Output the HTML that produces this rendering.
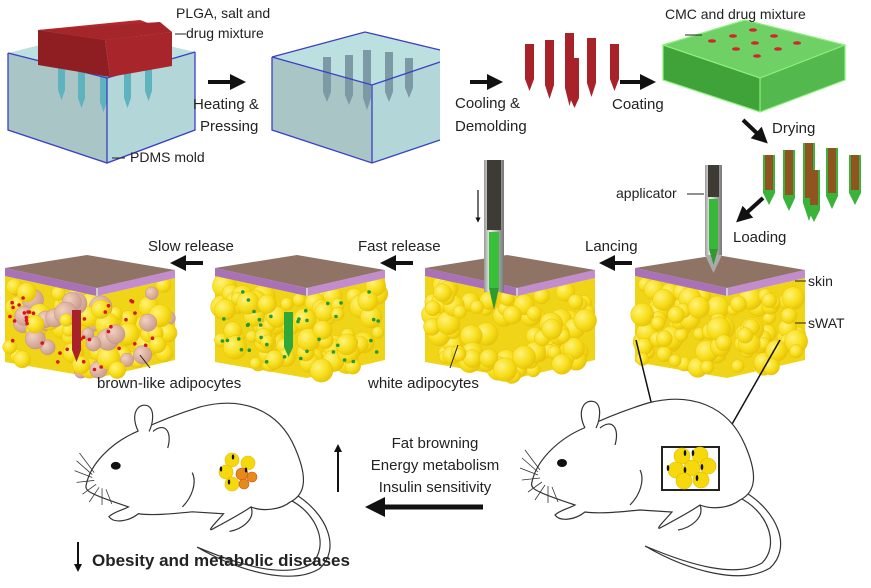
<!DOCTYPE html>
<html><head><meta charset="utf-8"><style>
html,body{margin:0;padding:0;background:#fff;width:871px;height:588px;overflow:hidden}
svg{display:block}
text{font-family:"Liberation Sans",Arial,sans-serif;fill:#222}
</style></head><body>
<svg id="s" width="871" height="588" viewBox="0 0 871 588" xmlns="http://www.w3.org/2000/svg">
<defs>
<radialGradient id="fy" cx="0.35" cy="0.35" r="0.7"><stop offset="0" stop-color="#fff27a"/><stop offset="0.6" stop-color="#f7de1a"/><stop offset="1" stop-color="#e6c20a"/></radialGradient>
<radialGradient id="fb" cx="0.35" cy="0.35" r="0.7"><stop offset="0" stop-color="#f2d0c0"/><stop offset="1" stop-color="#c99a8a"/></radialGradient>
<marker id="ah" markerWidth="4" markerHeight="4" refX="2" refY="2" orient="auto" markerUnits="strokeWidth"><path d="M0,0 L4,2 L0,4 Z" fill="#111"/></marker>
<linearGradient id="pen" x1="0" x2="1"><stop offset="0" stop-color="#999"/><stop offset="0.3" stop-color="#eee"/><stop offset="1" stop-color="#777"/></linearGradient>
</defs>

<!-- Box 1 -->
<polygon points="8,53 107,78 107,163 8,130" fill="#a9c5c6"/>
<polygon points="107,78 195,52 195,130 107,163" fill="#b3d6d8"/>
<polygon points="8,53 100,30 195,52 107,78" fill="#bcdfe0"/>
<g fill="#5fb3bf">
<path d="M58,65 h7 v25 l-3.5,10 l-3.5,-10z"/><path d="M78,68 h7 v30 l-3.5,10 l-3.5,-10z"/><path d="M100,72 h7 v30 l-3.5,10 l-3.5,-10z"/><path d="M124,70 h7 v28 l-3.5,10 l-3.5,-10z"/><path d="M145,66 h7 v25 l-3.5,10 l-3.5,-10z"/>
</g>
<g fill="none" stroke="#3a3fc4" stroke-width="1.3"><polyline points="8,53 107,78 195,52"/><polyline points="8,53 8,130 107,163 195,130 195,52"/><line x1="107" y1="78" x2="107" y2="163"/></g>
<polygon points="38,30 140,20 172,32 105,40" fill="#b22a2e"/>
<polygon points="38,30 105,40 110,77 38,65" fill="#8e1e22"/>
<polygon points="105,40 172,32 172,66 110,77" fill="#a8262b"/>
<polygon points="38,30 160,22 172,32 105,40" fill="#a5262a"/>
<text x="176" y="18" font-size="14">PLGA, salt and</text>
<line x1="175" y1="34" x2="186" y2="34" stroke="#222"/>
<text x="186" y="38" font-size="14">drug mixture</text>
<line x1="112" y1="158" x2="125" y2="158" stroke="#222"/>
<text x="130" y="162" font-size="14">PDMS mold</text>

<line x1="208" y1="82" x2="238" y2="82" stroke="#111" stroke-width="4" marker-end="url(#ah)"/>
<text x="193" y="109" font-size="15">Heating &amp;</text>
<text x="200" y="131" font-size="15">Pressing</text>

<!-- Box 2 -->
<polygon points="272,57 372,85 372,163 272,130" fill="#a9c5c6"/>
<polygon points="372,85 440,62 440,140 372,163" fill="#b3d6d8"/>
<polygon points="272,57 365,32 440,50 440,62 372,85" fill="#bcdfe0"/>
<g fill="#7c9aa6">
<path d="M323,57 h8 v35 l-4,10 l-4,-10z"/><path d="M345,55 h8 v40 l-4,10 l-4,-10z"/><path d="M363,50 h8 v48 l-4,12 l-4,-12z"/><path d="M385,52 h8 v40 l-4,10 l-4,-10z"/><path d="M405,58 h8 v30 l-4,10 l-4,-10z"/>
</g>
<g fill="none" stroke="#3a3fc4" stroke-width="1.3"><polyline points="272,57 365,32 440,50"/><polyline points="272,57 372,85 440,62"/><polyline points="272,57 272,130 372,163 440,140"/><line x1="372" y1="85" x2="372" y2="163"/></g>

<line x1="470" y1="82" x2="495" y2="82" stroke="#111" stroke-width="4" marker-end="url(#ah)"/>
<text x="455" y="108" font-size="15">Cooling &amp;</text>
<text x="455" y="131" font-size="15">Demolding</text>

<g fill="#a8222a">
<path d="M525,44 h9 v35 l-4.5,12 l-4.5,-12z"/><path d="M545,40 h9 v45 l-4.5,14 l-4.5,-14z"/><path d="M565,33 h9 v55 l-4.5,18 l-4.5,-18z"/><path d="M570,58 h9 v40 l-4.5,10 l-4.5,-10z"/><path d="M587,38 h9 v45 l-4.5,14 l-4.5,-14z"/><path d="M610,44 h9 v35 l-4.5,12 l-4.5,-12z"/>
</g>
<line x1="620" y1="82" x2="648" y2="82" stroke="#111" stroke-width="4" marker-end="url(#ah)"/>
<text x="612" y="109" font-size="15">Coating</text>

<!-- green box -->
<polygon points="663,45 760,78 760,112 663,80" fill="#3fa33a"/>
<polygon points="760,78 845,45 845,80 760,112" fill="#53b84d"/>
<polygon points="663,45 745,20 845,45 760,78" fill="#6fd065"/>
<g fill="none" stroke="#8ef07c" stroke-width="1.2"><polygon points="663,45 745,20 845,45 760,78"/><polyline points="663,45 663,80 760,112 845,80 845,45"/><line x1="760" y1="78" x2="760" y2="112"/></g>
<g fill="#d0272d"><ellipse cx="712" cy="41" rx="4" ry="1.8"/><ellipse cx="733" cy="36" rx="4" ry="1.8"/><ellipse cx="753" cy="30" rx="4" ry="1.8"/><ellipse cx="774" cy="36" rx="4" ry="1.8"/><ellipse cx="797" cy="43" rx="4" ry="1.8"/><ellipse cx="736" cy="49" rx="4" ry="1.8"/><ellipse cx="755" cy="43" rx="4" ry="1.8"/><ellipse cx="778" cy="49" rx="4" ry="1.8"/><ellipse cx="757" cy="56" rx="4" ry="1.8"/></g>
<text x="665" y="19" font-size="14">CMC and drug mixture</text>
<line x1="685" y1="35" x2="702" y2="35" stroke="#222"/>

<line x1="743" y1="120" x2="762" y2="138" stroke="#111" stroke-width="4" marker-end="url(#ah)"/>
<text x="772" y="133" font-size="15">Drying</text>

<g fill="#3bb33a"><path d="M763,155 h12 v38 l-6,12 l-6,-12z"/><path d="M783,150 h12 v48 l-6,13 l-6,-13z"/><path d="M803,143 h12 v60 l-6,18 l-6,-18z"/><path d="M808,170 h12 v40 l-6,12 l-6,-12z"/><path d="M826,148 h12 v48 l-6,13 l-6,-13z"/><path d="M849,155 h12 v38 l-6,12 l-6,-12z"/></g>
<g fill="#9a4a1e" opacity="0.9"><rect x="765" y="155" width="8" height="35"/><rect x="785" y="150" width="8" height="45"/><rect x="805" y="143" width="8" height="55"/><rect x="810" y="170" width="8" height="35"/><rect x="828" y="148" width="8" height="45"/><rect x="851" y="155" width="8" height="35"/></g>
<line x1="763" y1="198" x2="742" y2="217" stroke="#111" stroke-width="4" marker-end="url(#ah)"/>
<text x="733" y="242" font-size="15">Loading</text>

<g id="blocks"></g>

<!-- applicator -->
<rect x="705" y="165" width="17" height="90" fill="url(#pen)"/>
<rect x="708" y="165" width="11" height="32" fill="#3e3a34"/>
<rect x="709" y="199" width="9" height="50" fill="#38b838"/>
<path d="M705,255 h17 l-8.5,18z" fill="#aaa"/>
<path d="M709,249 h9 l-4.5,16z" fill="#2f9a2f"/>
<text x="616" y="198" font-size="14">applicator</text>
<line x1="687" y1="194" x2="704" y2="194" stroke="#222"/>

<!-- pen 2 -->
<rect x="484" y="160" width="20" height="132" fill="url(#pen)"/>
<rect x="487" y="160" width="14" height="70" fill="#3e3a34"/>
<rect x="489" y="232" width="10" height="56" fill="#38c038"/>
<path d="M489,288 h10 l-5,22z" fill="#2f9a2f"/>
<line x1="478" y1="190" x2="478" y2="220" stroke="#222" stroke-width="1.3" marker-end="url(#ah)"/>

<line x1="203" y1="263" x2="178" y2="263" stroke="#111" stroke-width="4" marker-end="url(#ah)"/>
<text x="148" y="251" font-size="15">Slow release</text>
<line x1="413" y1="263" x2="388" y2="263" stroke="#111" stroke-width="4" marker-end="url(#ah)"/>
<text x="358" y="251" font-size="15">Fast release</text>
<line x1="632" y1="263" x2="607" y2="263" stroke="#111" stroke-width="4" marker-end="url(#ah)"/>
<text x="585" y="251" font-size="15">Lancing</text>
<line x1="795" y1="281" x2="806" y2="281" stroke="#222"/>
<text x="808" y="286" font-size="14">skin</text>
<line x1="795" y1="323" x2="806" y2="323" stroke="#222"/>
<text x="808" y="328" font-size="14">sWAT</text>
<line x1="140" y1="355" x2="150" y2="368" stroke="#222"/>
<text x="97" y="388" font-size="15">brown-like adipocytes</text>
<line x1="458" y1="345" x2="450" y2="368" stroke="#222"/>
<text x="368" y="388" font-size="15">white adipocytes</text>

<line x1="636" y1="340" x2="662" y2="447" stroke="#111" stroke-width="1.5"/>
<line x1="780" y1="340" x2="719" y2="447" stroke="#111" stroke-width="1.5"/>

<g id="mouse" fill="#fff" stroke="#333" stroke-width="1.2">
<path d="M745,492 C778,512 792,548 770,568 C742,585 690,572 645,546 C692,566 736,578 762,563 C780,545 768,512 740,498Z"/>
<path d="M532,482 C536,462 556,440 584,428 C605,418 625,410 648,403 C690,392 728,405 745,445 C758,475 756,492 740,500 C730,508 712,510 700,505 C690,512 675,520 660,528 C655,530 665,520 672,512 L640,510 C620,512 600,514 585,512 C575,520 560,522 555,515 C560,510 570,508 575,505 C560,500 545,495 540,492 C535,490 530,487 532,482Z"/>
<path d="M585,428 C576,410 585,398 595,402 C602,406 600,420 596,428" />
<path d="M600,428 C612,418 620,428 615,445" fill="none"/>
<path d="M640,470 C645,480 640,495 630,505" fill="none"/>
<path d="M700,505 C705,518 690,528 678,530" fill="none"/>
<ellipse cx="562" cy="463" rx="5" ry="4" fill="#111" stroke="none"/>
<g fill="none" stroke-width="0.8"><path d="M540,470 L525,450 M538,472 L522,458 M538,475 L520,468 M540,478 L522,480 M542,482 L528,492 M545,485 L535,500 M548,486 L548,503 M552,487 L558,502"/></g>
</g>
<rect x="662" y="447" width="57" height="43" fill="#fff" stroke="#222" stroke-width="2"/>
<g fill="#f5d90c" stroke="#e8b800" stroke-width="0.6">
<circle cx="682" cy="456" r="8"/><circle cx="700" cy="455" r="8"/><circle cx="676" cy="470" r="8"/><circle cx="692" cy="468" r="8"/><circle cx="708" cy="466" r="8"/><circle cx="684" cy="481" r="8"/><circle cx="701" cy="480" r="8"/></g>
<g fill="#111"><ellipse cx="685" cy="453" rx="1.3" ry="3"/><ellipse cx="693" cy="453" rx="1.3" ry="3"/><ellipse cx="668" cy="468" rx="1.3" ry="3"/><ellipse cx="685" cy="470" rx="1.3" ry="3"/><ellipse cx="702" cy="467" rx="1.3" ry="3"/><ellipse cx="697" cy="478" rx="1.3" ry="3"/></g>

<use href="#mouse" transform="translate(-435,12) scale(0.98)"/>
<g fill="#f5d90c" stroke="#e8b800" stroke-width="0.6"><circle cx="232" cy="460" r="7"/><circle cx="248" cy="463" r="7"/><circle cx="226" cy="472" r="7"/><circle cx="232" cy="484" r="7"/></g>
<g fill="#e88a1a" stroke="#c8501a" stroke-width="0.6"><circle cx="242" cy="474" r="6"/><circle cx="252" cy="477" r="5"/><circle cx="244" cy="484" r="5"/></g>
<g fill="#111"><ellipse cx="233" cy="457" rx="1.2" ry="2.5"/><ellipse cx="221" cy="469" rx="1.2" ry="2.5"/><ellipse cx="229" cy="482" rx="1.2" ry="2.5"/><ellipse cx="246" cy="470" rx="1.2" ry="2.5"/></g>

<line x1="338" y1="492" x2="338" y2="448" stroke="#111" stroke-width="2" marker-end="url(#ah)"/>
<text x="435" y="448" font-size="15" text-anchor="middle">Fat browning</text>
<text x="435" y="470" font-size="15" text-anchor="middle">Energy metabolism</text>
<text x="435" y="492" font-size="15" text-anchor="middle">Insulin sensitivity</text>
<line x1="483" y1="507" x2="375" y2="507" stroke="#111" stroke-width="5" marker-end="url(#ah)"/>
<line x1="78" y1="542" x2="78" y2="568" stroke="#111" stroke-width="2" marker-end="url(#ah)"/>
<text x="92" y="566" font-size="17" font-weight="bold">Obesity and metabolic diseases</text>
</svg>
<script>
(function(){
var NS="http://www.w3.org/2000/svg",g=document.getElementById("blocks");
var seed=7;function r(){seed=(seed*9301+49297)%233280;return seed/233280;}
function el(t,a){var e=document.createElementNS(NS,t);for(var k in a)e.setAttribute(k,a[k]);g.appendChild(e);return e;}
function topY(d){return d<92?276+d*20/92:296-(d-92)*18/78;}
var xs=[5,215,425,635];
for(var b=0;b<4;b++){
 var x=xs[b];
 el("polygon",{points:(x)+",276 "+(x+92)+",296 "+(x+170)+",278 "+(x+170)+",360 "+(x+92)+",378 "+(x)+",362",fill:"#f0d418"});
 var n=0,tries=0;
 while(n<85&&tries<2000){tries++;
  var rad=6+r()*6,d=rad*0.6+r()*(170-rad*1.2),tY=topY(d),bY=tY+86;
  var cy=tY+rad*0.5+r()*(bY-tY-rad);
  var brown=(b==0&&r()<0.25);
  el("circle",{cx:(x+d).toFixed(1),cy:cy.toFixed(1),r:rad.toFixed(1),fill:brown?"url(#fb)":"url(#fy)",stroke:brown?"#b88":"#e8c000","stroke-width":0.4});
  n++;
 }
 if(b<2){for(var j=0;j<40;j++){var dd=5+r()*160,ty=topY(dd);el("circle",{cx:(x+dd).toFixed(1),cy:(ty+8+r()*70).toFixed(1),r:1.8,fill:b==0?"#d8141c":"#1f9a3a"});}}
 el("polygon",{points:(x)+",268 "+(x+92)+",288 "+(x+92)+",296 "+(x)+",276",fill:"#a871b8"});
 el("polygon",{points:(x+92)+",288 "+(x+170)+",270 "+(x+170)+",278 "+(x+92)+",296",fill:"#c28ccd"});
 el("polygon",{points:(x)+",268 "+(x+82)+",255 "+(x+170)+",270 "+(x+92)+",288",fill:"#8f7466"});
 el("line",{x1:x+92,y1:288,x2:x+92,y2:296,stroke:"#ccc","stroke-width":2});
}
el("path",{d:"M72,310 h9 v40 l-4.5,12 l-4.5,-12z",fill:"#a8222a"});
el("path",{d:"M284,312 h9 v35 l-4.5,10 l-4.5,-10z",fill:"#2fa83a"});
})();
</script>
</body></html>
